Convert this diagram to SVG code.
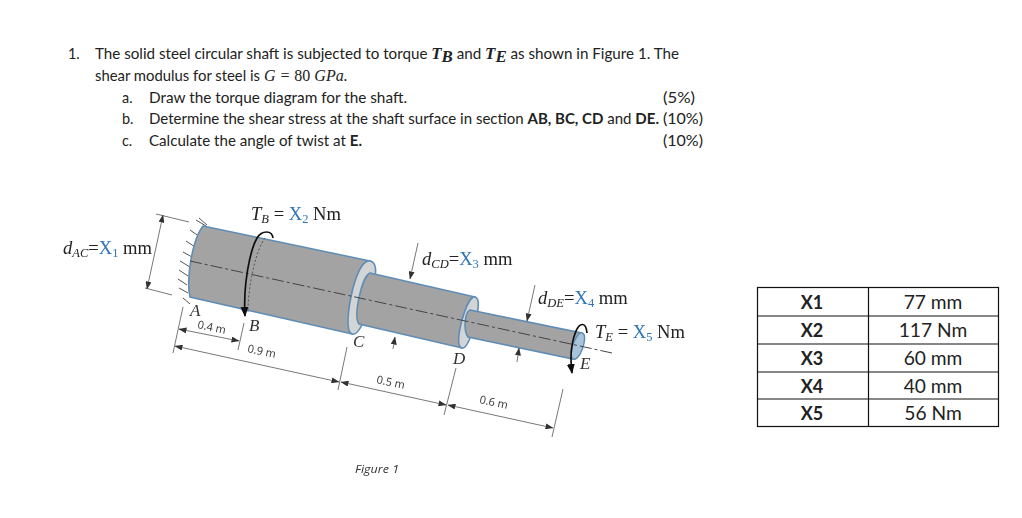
<svg xmlns="http://www.w3.org/2000/svg" width="1022" height="518" viewBox="0 0 1022 518">
<style>
.t{font-family:Lato,"Open Sans",sans-serif;font-size:14.4px;fill:#222}
.m{font-family:"Liberation Serif",serif;font-style:italic;font-size:16px;fill:#222}
.s{font-family:"Liberation Serif",serif;font-size:18.6px;fill:#222}
.i{font-style:italic}
.b{fill:#2e75b6}
.sub{font-size:12.5px}
.pt{font-family:"Liberation Serif",serif;font-style:italic;font-size:17px;fill:#333}
.dim{font-family:"Open Sans","Noto Sans",sans-serif;font-size:11px;fill:#333}
.body{fill:#a3a3a3;stroke:#5f8db5;stroke-width:1.6}
.ring{fill:#d2d4d6;stroke:#5f8db5;stroke-width:1.6}
.ln{stroke:#555;stroke-width:.8;fill:none}
.da{stroke:#555;stroke-width:.8;fill:none;marker-start:url(#a);marker-end:url(#a)}
.ar{stroke:#555;stroke-width:.8;fill:none;marker-end:url(#a)}
.tb{font-family:Lato,"Open Sans",sans-serif;font-size:18px;fill:#222;text-anchor:middle}
.v{font-size:19.2px}
.bd{font-weight:700}
.cell{fill:none;stroke:#111;stroke-width:1.2}
</style>
<defs>
<marker id="a" viewBox="0 0 8 6" refX="7.5" refY="3" markerWidth="8" markerHeight="6" markerUnits="userSpaceOnUse" orient="auto-start-reverse"><path d="M0 0L8 3L0 6Z" fill="#333"/></marker>
<marker id="k" viewBox="0 0 10 8" refX="9" refY="4" markerWidth="10" markerHeight="8" markerUnits="userSpaceOnUse" orient="auto"><path d="M0 0L10 4L0 8Z" fill="#111"/></marker>
<filter id="soft" x="0" y="0" width="1" height="1"><feGaussianBlur stdDeviation="0.35"/></filter>
</defs>
<rect width="1022" height="518" fill="#fff"/>
<g id="question">
<text class="t" x="68" y="59">1.</text>
<text class="t" x="95" y="59" textLength="584" lengthAdjust="spacingAndGlyphs">The solid steel circular shaft is subjected to torque <tspan class="m" font-weight="700">T</tspan><tspan class="m" font-weight="700" font-size="10" dy="3">B</tspan><tspan dy="-3"> and </tspan><tspan class="m" font-weight="700">T</tspan><tspan class="m" font-weight="700" font-size="10" dy="3">E</tspan><tspan dy="-3"> as shown in Figure 1. The</tspan></text>
<text class="t" x="95" y="81" textLength="165" lengthAdjust="spacingAndGlyphs">shear modulus for steel is</text>
<text class="m" x="264" y="81">G = <tspan font-style="normal">80</tspan> GPa.</text>
<text class="t" x="122" y="103">a.</text>
<text class="t" x="149" y="103" textLength="258" lengthAdjust="spacingAndGlyphs">Draw the torque diagram for the shaft.</text>
<text class="t" x="663" y="103" textLength="32" lengthAdjust="spacingAndGlyphs">(5%)</text>
<text class="t" x="122" y="124">b.</text>
<text class="t" x="149" y="124" textLength="510" lengthAdjust="spacingAndGlyphs">Determine the shear stress at the shaft surface in section <tspan class="bd">AB, BC, CD</tspan> and <tspan class="bd">DE.</tspan></text>
<text class="t" x="663" y="124" textLength="40" lengthAdjust="spacingAndGlyphs">(10%)</text>
<text class="t" x="122" y="146">c.</text>
<text class="t" x="149" y="146" textLength="213" lengthAdjust="spacingAndGlyphs">Calculate the angle of twist at <tspan class="bd">E.</tspan></text>
<text class="t" x="663" y="146" textLength="40" lengthAdjust="spacingAndGlyphs">(10%)</text>
</g>
<g filter="url(#soft)">
<g id="wall" stroke="#555" stroke-width="1" fill="none">
<path d="M199 218L207 225M196 220L206 226M190 230L200 237M186 241L195 247M183 252L192 257M180 261L190 267M179 270L188 276M178 279L187 285M179 288L188 293M183 298L190 304"/>
</g>
<g id="shaft-AC">
<path class="body" d="M203 226L370 261C360 275 345 315 352 334L190 297C186 280 192 240 203 226Z"/>
<path class="ring" d="M370 261C376 262 378 270 372 290C366 322 358 336 352 334C346 332 347 312 353 288C358 270 364 260 370 261Z"/>
</g>
<g id="shaft-CD">
<path class="body" d="M370 273L475 297C468 310 458 335 462 348L359 324C353 316 362 276 370 273Z"/>
<path class="ring" d="M475 297C480 298 479 310 474 326C470 340 466 349 462 348C457 347 458 335 462 320C466 306 471 296 475 297Z"/>
</g>
<g id="shaft-DE">
<path class="body" d="M470 310L582 333L573 359L468 337C463 330 465 312 470 310Z"/>
<path d="M582 333C586 334 585 342 582 350C579 358 575 360 573 359C570 357 571 349 574 342C577 335 580 332 582 333Z" fill="#a9c3da" stroke="#5f8db5" stroke-width="1.4"/>
</g>
<g id="connectors">
<path d="M190 261L612 353" stroke="#444" stroke-width="1" stroke-dasharray="12 3 3 3" fill="none"/>
<path d="M265 238C256 250 248 285 248 312" stroke="#555" stroke-width="1" stroke-dasharray="2 2" fill="none"/>
<path d="M273 238C272 230 262 230 257 238C250 250 243 285 245 316" stroke="#111" stroke-width="1.7" fill="none" marker-end="url(#k)"/>
<path d="M587 333C586 322 580 322 576 331C571 343 570 358 572 373" stroke="#111" stroke-width="1.7" fill="none" marker-end="url(#k)"/>
<path class="ln" d="M156 214L189 222M145 288L172 295M183 307L173 353M244 323L238 350M347 347L338 390M456 368L444 415M563 389L552 437"/>
<path class="da" d="M163 215L147 289"/>
<path class="da" d="M179 329L239 341"/>
<path class="da" d="M175 346L339 382"/>
<path class="da" d="M341 382L446 405"/>
<path class="da" d="M448 405L553 428"/>
<path class="ar" d="M418 243L410 279"/>
<path class="ar" d="M393 349L395 337"/>
<path class="ar" d="M535 285L527 321"/>
<path class="ar" d="M517 362L519 348"/>
</g>
<g id="labels">
<text class="s" x="251" y="220"><tspan class="i">T</tspan><tspan class="i sub" dy="3">B</tspan><tspan dy="-3"> = </tspan><tspan class="b">X</tspan><tspan class="b sub" dy="3">2</tspan><tspan dy="-3"> Nm</tspan></text>
<text class="s" x="63" y="254"><tspan class="i">d</tspan><tspan class="i sub" dy="3">AC</tspan><tspan dy="-3">=</tspan><tspan class="b">X</tspan><tspan class="b sub" dy="3">1</tspan><tspan dy="-3"> mm</tspan></text>
<text class="s" x="422" y="265"><tspan class="i">d</tspan><tspan class="i sub" dy="3">CD</tspan><tspan dy="-3">=</tspan><tspan class="b">X</tspan><tspan class="b sub" dy="3">3</tspan><tspan dy="-3"> mm</tspan></text>
<text class="s" x="538" y="304"><tspan class="i">d</tspan><tspan class="i sub" dy="3">DE</tspan><tspan dy="-3">=</tspan><tspan class="b">X</tspan><tspan class="b sub" dy="3">4</tspan><tspan dy="-3"> mm</tspan></text>
<text class="s" x="595" y="338"><tspan class="i">T</tspan><tspan class="i sub" dy="3">E</tspan><tspan dy="-3"> = </tspan><tspan class="b">X</tspan><tspan class="b sub" dy="3">5</tspan><tspan dy="-3"> Nm</tspan></text>
<text class="pt" x="190" y="316">A</text>
<text class="pt" x="249" y="331">B</text>
<text class="pt" x="353" y="347">C</text>
<text class="pt" x="453" y="364">D</text>
<text class="pt" x="580" y="369">E</text>
<text class="dim" transform="translate(197 328) rotate(12)">0.4 m</text>
<text class="dim" transform="translate(247 352) rotate(12)">0.9 m</text>
<text class="dim" transform="translate(376 383) rotate(12)">0.5 m</text>
<text class="dim" transform="translate(479 403) rotate(12)">0.6 m</text>
<text class="dim" x="355" y="473" font-style="italic" textLength="44" lengthAdjust="spacingAndGlyphs">Figure 1</text>
</g>
</g>
<g id="table">
<rect class="cell" x="757.5" y="287.5" width="241" height="139"/>
<path class="cell" d="M868.5 287.5V426.5M757.5 316H998.5M757.5 344H998.5M757.5 372H998.5M757.5 399H998.5"/>
<text class="tb bd" x="812" y="309">X1</text><text class="tb v" x="933" y="309">77 mm</text>
<text class="tb bd" x="812" y="337">X2</text><text class="tb v" x="933" y="337">117 Nm</text>
<text class="tb bd" x="812" y="365">X3</text><text class="tb v" x="933" y="365">60 mm</text>
<text class="tb bd" x="812" y="393">X4</text><text class="tb v" x="933" y="393">40 mm</text>
<text class="tb bd" x="812" y="420">X5</text><text class="tb v" x="933" y="420">56 Nm</text>
</g>
</svg>
